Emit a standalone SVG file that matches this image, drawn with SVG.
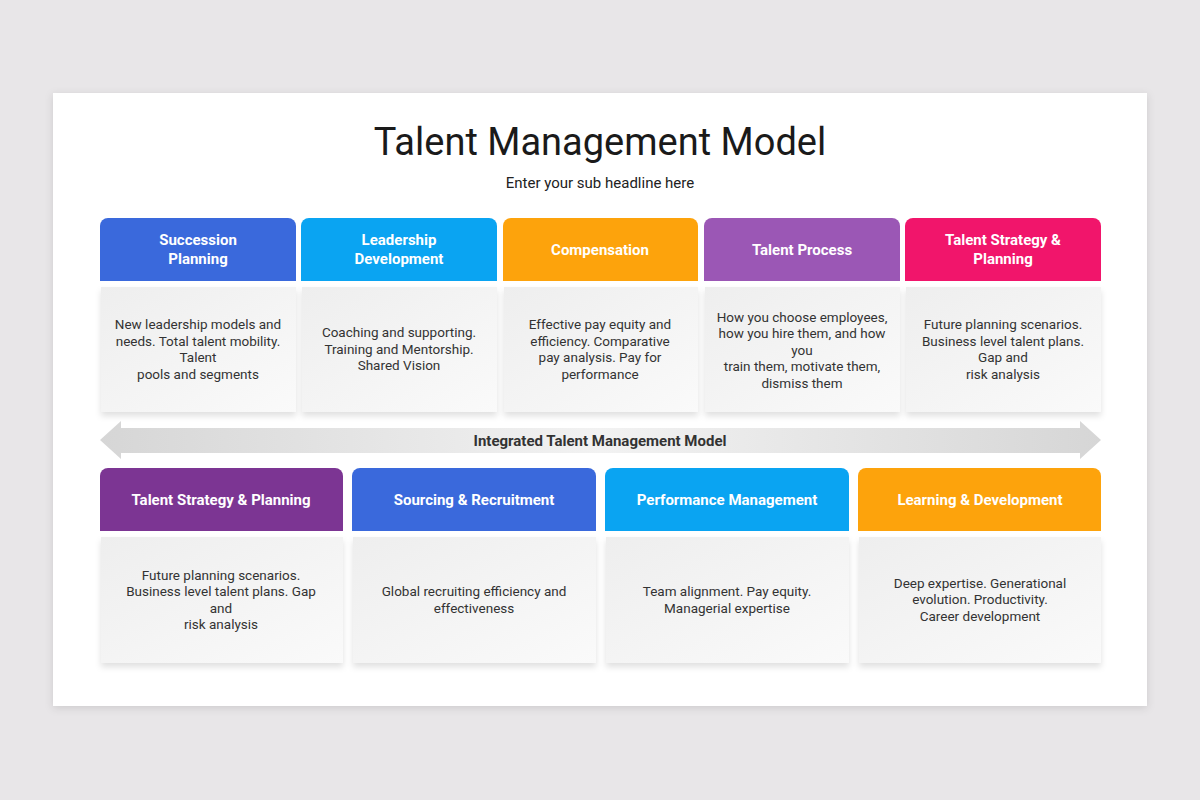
<svg xmlns="http://www.w3.org/2000/svg" width="1200" height="800" viewBox="0 0 1200 800">
<defs>
<linearGradient id="bg" x1="0" y1="0" x2="1" y2="1"><stop offset="0" stop-color="#eeeeee"/><stop offset="1" stop-color="#fafafa"/></linearGradient>
<linearGradient id="ar" x1="0" y1="0" x2="1" y2="0"><stop offset="0" stop-color="#d6d6d6"/><stop offset="0.5" stop-color="#f2f2f2"/><stop offset="1" stop-color="#d6d6d6"/></linearGradient>
<filter id="sh" x="-10%" y="-10%" width="120%" height="130%"><feDropShadow dx="0" dy="4" stdDeviation="3" flood-color="#000" flood-opacity="0.12"/></filter>
<filter id="cs" x="-5%" y="-5%" width="110%" height="110%"><feDropShadow dx="0" dy="2" stdDeviation="4" flood-color="#000" flood-opacity="0.12"/></filter>
</defs>
<style>
.h{font-family:Roboto,"Liberation Sans",sans-serif;font-weight:bold;font-size:15px;fill:#fff;text-anchor:middle}
.b{font-family:Roboto,"Liberation Sans",sans-serif;font-size:13.5px;fill:#333;text-anchor:middle}
.body{fill:url(#bg);filter:url(#sh)}
</style>
<rect width="1200" height="800" fill="#e8e6e8"/>
<rect x="53" y="93" width="1094" height="613" fill="#fff" filter="url(#cs)"/>
<text x="600" y="155" font-family="Roboto,'Liberation Sans',sans-serif" font-size="38" fill="#1a1a1a" text-anchor="middle">Talent Management Model</text>
<text x="600" y="188" font-family="Roboto,'Liberation Sans',sans-serif" font-size="15" fill="#222" text-anchor="middle">Enter your sub headline here</text>
<g id="connectors">
<polygon points="100,440 121,421 121,428 1080,428 1080,421 1101,440 1080,459 1080,453 121,453 121,459" fill="url(#ar)"/>
<text x="600" y="446" font-family="Roboto,'Liberation Sans',sans-serif" font-weight="bold" font-size="15" fill="#333" text-anchor="middle">Integrated Talent Management Model</text>
</g>
<g id="n1"><path d="M100,281V226a8,8 0 0 1 8-8h180a8,8 0 0 1 8,8v55z" fill="#3a69dc"/><text class="h" x="198" y="245">Succession</text><text class="h" x="198" y="264">Planning</text><rect class="body" x="101" y="287" width="195" height="125"/><text class="b" x="198" y="329">New leadership models and</text><text class="b" x="198" y="346">needs. Total talent mobility.</text><text class="b" x="198" y="362">Talent</text><text class="b" x="198" y="379">pools and segments</text></g>
<g id="n2"><path d="M301,281V226a8,8 0 0 1 8-8h180a8,8 0 0 1 8,8v55z" fill="#0aa4f2"/><text class="h" x="399" y="245">Leadership</text><text class="h" x="399" y="264">Development</text><rect class="body" x="302" y="287" width="195" height="125"/><text class="b" x="399" y="337">Coaching and supporting.</text><text class="b" x="399" y="354">Training and Mentorship.</text><text class="b" x="399" y="370">Shared Vision</text></g>
<g id="n3"><path d="M503,281V226a8,8 0 0 1 8-8h179a8,8 0 0 1 8,8v55z" fill="#fda30c"/><text class="h" x="600" y="255">Compensation</text><rect class="body" x="504" y="287" width="194" height="125"/><text class="b" x="600" y="329">Effective pay equity and</text><text class="b" x="600" y="346">efficiency. Comparative</text><text class="b" x="600" y="362">pay analysis. Pay for</text><text class="b" x="600" y="379">performance</text></g>
<g id="n4"><path d="M704,281V226a8,8 0 0 1 8-8h180a8,8 0 0 1 8,8v55z" fill="#9b57b5"/><text class="h" x="802" y="255">Talent Process</text><rect class="body" x="705" y="287" width="195" height="125"/><text class="b" x="802" y="322">How you choose employees,</text><text class="b" x="802" y="338">how you hire them, and how</text><text class="b" x="802" y="355">you</text><text class="b" x="802" y="371">train them, motivate them,</text><text class="b" x="802" y="388">dismiss them</text></g>
<g id="n5"><path d="M905,281V226a8,8 0 0 1 8-8h180a8,8 0 0 1 8,8v55z" fill="#f1156b"/><text class="h" x="1003" y="245">Talent Strategy &amp;</text><text class="h" x="1003" y="264">Planning</text><rect class="body" x="906" y="287" width="195" height="125"/><text class="b" x="1003" y="329">Future planning scenarios.</text><text class="b" x="1003" y="346">Business level talent plans.</text><text class="b" x="1003" y="362">Gap and</text><text class="b" x="1003" y="379">risk analysis</text></g>
<g id="n6"><path d="M100,531V476a8,8 0 0 1 8-8h227a8,8 0 0 1 8,8v55z" fill="#7c3593"/><text class="h" x="221" y="505">Talent Strategy &amp; Planning</text><rect class="body" x="101" y="537" width="242" height="126"/><text class="b" x="221" y="580">Future planning scenarios.</text><text class="b" x="221" y="596">Business level talent plans. Gap</text><text class="b" x="221" y="613">and</text><text class="b" x="221" y="629">risk analysis</text></g>
<g id="n7"><path d="M352,531V476a8,8 0 0 1 8-8h228a8,8 0 0 1 8,8v55z" fill="#3a69dc"/><text class="h" x="474" y="505">Sourcing &amp; Recruitment</text><rect class="body" x="353" y="537" width="243" height="126"/><text class="b" x="474" y="596">Global recruiting efficiency and</text><text class="b" x="474" y="613">effectiveness</text></g>
<g id="n8"><path d="M605,531V476a8,8 0 0 1 8-8h228a8,8 0 0 1 8,8v55z" fill="#0aa4f2"/><text class="h" x="727" y="505">Performance Management</text><rect class="body" x="606" y="537" width="243" height="126"/><text class="b" x="727" y="596">Team alignment. Pay equity.</text><text class="b" x="727" y="613">Managerial expertise</text></g>
<g id="n9"><path d="M858,531V476a8,8 0 0 1 8-8h227a8,8 0 0 1 8,8v55z" fill="#fda30c"/><text class="h" x="980" y="505">Learning &amp; Development</text><rect class="body" x="859" y="537" width="242" height="126"/><text class="b" x="980" y="588">Deep expertise. Generational</text><text class="b" x="980" y="604">evolution. Productivity.</text><text class="b" x="980" y="621">Career development</text></g>
</svg>
